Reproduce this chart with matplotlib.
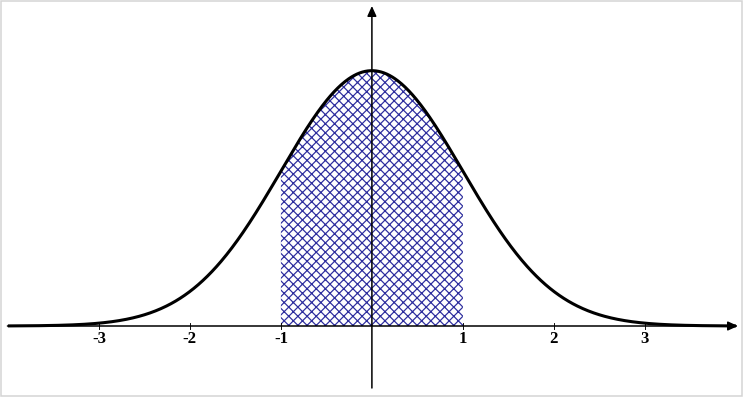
import numpy as np
import matplotlib
matplotlib.use("Agg")
import matplotlib.pyplot as plt
from matplotlib.patches import Rectangle

# ---- data ----
mean = 0.0
sd = 1.0
x_range = [-4.0, 4.0]
shade_range = [-1.0, 1.0]
tick_values = [-3, -2, -1, 1, 2, 3]
tick_labels = ["-3", "-2", "-1", "1", "2", "3"]

def pdf(x):
    return np.exp(-0.5 * ((x - mean) / sd) ** 2) / (sd * np.sqrt(2 * np.pi))

plt.rcParams['hatch.linewidth'] = 0.8
plt.rcParams['hatch.color'] = "#2e2e9e"

DPI = 110
W, H = 743, 397
fig = plt.figure(figsize=(W / DPI, H / DPI), dpi=DPI)
ax = fig.add_axes([0, 0, 1, 1])
ax.set_axis_off()

# pixel mapping: x_px = 371.9 + 91*x ; y_px = 326 - 640*pdf
xs_px = 91.0
x0_px = 371.9
ys_px = 640.0
y0_px = 326.0
ax.set_xlim(-x0_px / xs_px, (W - x0_px) / xs_px)
ax.set_ylim((y0_px - H) / ys_px, y0_px / ys_px)

# shaded region
xf = np.linspace(shade_range[0], shade_range[1], 400)
ax.fill_between(xf, 0, pdf(xf), facecolor="none", edgecolor="#2e2e9e",
                hatch="xxxx", linewidth=0, zorder=1)

# x axis with arrow
x_end = (738 - x0_px) / xs_px
ax.annotate("", xy=(x_end, 0), xytext=(x_range[0] - 0.005, 0),
            arrowprops=dict(arrowstyle="-|>,head_length=0.55,head_width=0.25",
                            color="black", lw=1.0, shrinkA=0, shrinkB=0),
            zorder=3)
# y axis with arrow
y_bot = (y0_px - 388) / ys_px
y_top = (y0_px - 6) / ys_px
ax.annotate("", xy=(0, y_top), xytext=(0, y_bot),
            arrowprops=dict(arrowstyle="-|>,head_length=0.55,head_width=0.25",
                            color="black", lw=1.0, shrinkA=0, shrinkB=0),
            zorder=3)

# curve
xc = np.linspace(x_range[0], x_range[1], 800)
ax.plot(xc, pdf(xc), color="black", lw=2.0, zorder=4, solid_capstyle="butt")

# ticks and labels
tick_half = 3.0 / ys_px
for v, lab in zip(tick_values, tick_labels):
    ax.plot([v, v], [-tick_half, tick_half], color="black", lw=0.6, zorder=3)
    ax.text(v, (y0_px - 339) / ys_px, lab, ha="center", va="center",
            fontsize=11, fontweight="bold", family="Liberation Serif", zorder=5)

# light border
fig.patches.append(Rectangle((0.0007, 0.0013), 0.9986, 0.9974, transform=fig.transFigure,
                             fill=False, edgecolor="#d4d4d4", lw=1.0))

fig.savefig("out.png", dpi=DPI)
